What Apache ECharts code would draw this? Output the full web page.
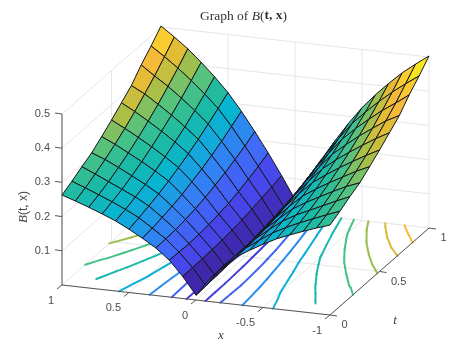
<!DOCTYPE html>
<html>
<head>
<meta charset="utf-8">
<style>html,body{margin:0;padding:0;background:#fff}#main{width:474px;height:355px}</style>
<script src="https://cdn.jsdelivr.net/npm/echarts@6/dist/echarts.min.js"></script>
</head>
<body>
<div id="main"></div>
<script>
// grid of the surface
var xValues=[-1,-0.9,-0.8,-0.7,-0.6,-0.5,-0.4,-0.3,-0.2,-0.1,0,0.1,0.2,0.3,0.4,0.5,0.6,0.7,0.8,0.9,1];
var tValues=[0,0.1,0.2,0.3,0.4,0.5,0.6,0.7,0.8,0.9,1];
// one row per t, columns follow xValues
var t00=[.263,.250,.236,.221,.205,.185,.163,.139,.108,.065,.014,.065,.108,.139,.163,.185,.205,.221,.236,.250,.263];
var t01=[.278,.263,.247,.231,.213,.193,.167,.140,.106,.065,.016,.065,.106,.140,.167,.193,.213,.231,.247,.263,.278];
var t02=[.295,.278,.260,.242,.224,.202,.173,.142,.105,.065,.018,.065,.105,.142,.173,.202,.224,.242,.260,.278,.295];
var t03=[.310,.295,.276,.256,.235,.212,.180,.146,.107,.067,.020,.067,.107,.146,.180,.212,.235,.256,.276,.295,.310];
var t04=[.332,.314,.293,.272,.249,.224,.189,.152,.110,.069,.022,.069,.110,.152,.189,.224,.249,.272,.293,.314,.332];
var t05=[.355,.335,.313,.290,.265,.238,.201,.160,.115,.073,.025,.073,.115,.160,.201,.238,.265,.290,.313,.335,.355];
var t06=[.380,.359,.335,.310,.283,.253,.213,.170,.121,.077,.028,.077,.121,.170,.213,.253,.283,.310,.335,.359,.380];
var t07=[.405,.385,.359,.332,.302,.270,.227,.181,.130,.083,.031,.083,.130,.181,.227,.270,.302,.332,.359,.385,.405];
var t08=[.440,.412,.386,.356,.324,.289,.243,.194,.141,.090,.033,.090,.141,.194,.243,.289,.324,.356,.386,.412,.440];
var t09=[.470,.443,.414,.382,.347,.309,.261,.208,.153,.097,.037,.097,.153,.208,.261,.309,.347,.382,.414,.443,.470];
var t10=[.503,.475,.445,.410,.372,.330,.280,.225,.167,.105,.040,.105,.167,.225,.280,.330,.372,.410,.445,.475,.503];
var zRows=[t00,t01,t02,t03,t04,t05,t06,t07,t08,t09,t10];
// colour value of a face, one row per upper t of the face, columns are |x| 0..1
var faceShades=[
	[.016,.064,.104,.138,.165,.191,.211,.229,.246,.263,.278],
	[.017,.061,.100,.135,.167,.196,.219,.237,.256,.278,.295],
	[.018,.061,.097,.133,.169,.202,.225,.246,.270,.295,.310],
	[.020,.059,.095,.132,.172,.208,.234,.257,.283,.314,.332],
	[.022,.059,.094,.132,.176,.215,.244,.269,.299,.335,.355],
	[.023,.059,.093,.133,.181,.223,.255,.282,.317,.359,.380],
	[.025,.060,.095,.135,.186,.232,.267,.297,.336,.385,.405],
	[.026,.062,.098,.137,.193,.243,.281,.313,.358,.412,.440],
	[.029,.063,.102,.140,.201,.254,.296,.331,.380,.443,.470],
	[.030,.065,.107,.145,.210,.265,.312,.350,.405,.475,.503]
];
var contourLevels=[0.05,0.1,0.15,0.2,0.25,0.3,0.35,0.4,0.45];
// tick labels
var xTicks=[1,0.5,0,-0.5,-1];
var tTicks=[0,0.5,1];
var zTicks=[0.1,0.2,0.3,0.4,0.5];

var parula=['#3e26a8','#4747eb','#3f6ffa','#2296ea','#08b5d0','#1cbaa5','#4cc283','#a8bf48','#e3bc36','#fcb93a','#f6e620'];
var zMin=0.014,zMax=0.503;
function zColor(z){
	return echarts.color.lerp((z-zMin)/(zMax-zMin),parula);
}
// fixed view of the box, gives a point on the hidden pixel axes
function project(x,t,z){
	var u=(1-x)/2;
	return [62+u*268+t*99,285+u*30-t*87-z*342];
}

// walls and floor lines
var gridLines=[];
xTicks.forEach(function(x){
	gridLines.push([[x,0,0],[x,1,0]]);
	gridLines.push([[x,1,0],[x,1,0.5]]);
});
tTicks.forEach(function(t){
	gridLines.push([[-1,t,0],[1,t,0]]);
	gridLines.push([[1,t,0],[1,t,0.5]]);
});
zTicks.forEach(function(z){
	gridLines.push([[1,0,z],[1,1,z]]);
	gridLines.push([[1,1,z],[-1,1,z]]);
});

// contour pieces on the floor, marching squares over zRows
var contourPieces=[];
contourLevels.forEach(function(level){
	for(var j=0;j<tValues.length-1;j++){
		for(var i=0;i<xValues.length-1;i++){
			var corners=[[i,j],[i+1,j],[i+1,j+1],[i,j+1]];
			var hits=[];
			for(var k=0;k<4;k++){
				var a=corners[k],b=corners[(k+1)%4];
				var za=zRows[a[1]][a[0]],zb=zRows[b[1]][b[0]];
				if((za-level)*(zb-level)<0){
					var f=(level-za)/(zb-za);
					hits.push([
						xValues[a[0]]+f*(xValues[b[0]]-xValues[a[0]]),
						tValues[a[1]]+f*(tValues[b[1]]-tValues[a[1]])
					]);
				}
			}
			if(hits.length>=2){
				contourPieces.push({p:hits[0],q:hits[1],level:level});
			}
			if(hits.length==4){
				contourPieces.push({p:hits[2],q:hits[3],level:level});
			}
		}
	}
});

// far cells first, the viewer sits on the -x,-t side
var cells=[];
for(var ix=xValues.length-2;ix>=0;ix--){
	for(var it=tValues.length-2;it>=0;it--){
		cells.push([ix,it]);
	}
}

// axis lines and ticks
var axisParts=[
	[[1,0,0],[1,0,0.5]],
	[[1,0,0],[-1,0,0]],
	[[-1,0,0],[-1,1,0]]
];

var labelParts=[];
zTicks.forEach(function(z){
	labelParts.push({at:[1,0,z],dx:-12,dy:0,text:String(z),align:'right'});
});
xTicks.forEach(function(x){
	labelParts.push({at:[x,0,0],dx:-8,dy:15.5,text:String(x),align:'right'});
});
tTicks.forEach(function(t){
	labelParts.push({at:[-1,t,0],dx:11.5,dy:10,text:String(t),align:'left'});
});

function toPixel(api,p){
	return api.coord(project(p[0],p[1],p[2]));
}
function seriesOf(name,data,renderItem){
	return {
		type:'custom',
		name:name,
		coordinateSystem:'cartesian2d',
		silent:true,
		animation:false,
		clip:false,
		data:data.map(function(d,idx){return [idx,idx];}),
		renderItem:renderItem
	};
}

var option={
	animation:false,
	backgroundColor:'#fff',
	title:{
		text:'Graph of {i|B}({b|t, x})',
		left:195,
		top:4,
		textStyle:{
			fontFamily:'Liberation Serif',
			fontSize:13.5,
			fontWeight:'normal',
			color:'#333',
			rich:{
				i:{fontFamily:'Liberation Serif',fontSize:13.5,fontStyle:'italic',color:'#333'},
				b:{fontFamily:'Liberation Serif',fontSize:13.5,fontWeight:'bold',color:'#333'}
			}
		}
	},
	grid:{left:0,right:0,top:0,bottom:0},
	xAxis:{type:'value',min:0,max:474,show:false},
	yAxis:{type:'value',min:0,max:355,inverse:true,show:false},
	series:[
		seriesOf('grid',gridLines,function(params,api){
			var g=gridLines[params.dataIndex];
			var a=toPixel(api,g[0]),b=toPixel(api,g[1]);
			return {type:'line',shape:{x1:a[0],y1:a[1],x2:b[0],y2:b[1]},style:{stroke:'#e6e6e6',lineWidth:1}};
		}),
		seriesOf('contour',contourPieces,function(params,api){
			var c=contourPieces[params.dataIndex];
			var a=toPixel(api,[c.p[0],c.p[1],0]),b=toPixel(api,[c.q[0],c.q[1],0]);
			return {type:'line',shape:{x1:a[0],y1:a[1],x2:b[0],y2:b[1]},style:{stroke:zColor(c.level),lineWidth:2,lineCap:'round'}};
		}),
		seriesOf('axes',axisParts,function(params,api){
			var s=axisParts[params.dataIndex];
			var a=toPixel(api,s[0]),b=toPixel(api,s[1]);
			var kids=[{type:'line',shape:{x1:a[0],y1:a[1],x2:b[0],y2:b[1]},style:{stroke:'#555',lineWidth:1}}];
			function tick(p,dx,dy){
				var q=toPixel(api,p);
				kids.push({type:'line',shape:{x1:q[0],y1:q[1],x2:q[0]+dx,y2:q[1]+dy},style:{stroke:'#555',lineWidth:1}});
			}
			if(params.dataIndex==0){
				zTicks.forEach(function(z){tick([1,0,z],-7,-1);});
			}else if(params.dataIndex==1){
				xTicks.forEach(function(x){tick([x,0,0],-5,4);});
			}else{
				tTicks.forEach(function(t){tick([-1,t,0],7,1);});
			}
			return {type:'group',children:kids};
		}),
		seriesOf('surface',cells,function(params,api){
			var c=cells[params.dataIndex],i=c[0],j=c[1];
			var pts=[[i,j],[i+1,j],[i+1,j+1],[i,j+1]].map(function(n){
				return toPixel(api,[xValues[n[0]],tValues[n[1]],zRows[n[1]][n[0]]]);
			});
			// flat colour comes from one corner of the cell
			var shade=faceShades[j][Math.abs(i-10)];
			return {type:'polygon',shape:{points:pts},style:{fill:zColor(shade),stroke:'#16161a',lineWidth:1,lineJoin:'round'}};
		}),
		seriesOf('labels',labelParts,function(params,api){
			var l=labelParts[params.dataIndex];
			var q=toPixel(api,l.at);
			return {type:'text',x:q[0]+l.dx,y:q[1]+l.dy,style:{text:l.text,align:l.align,verticalAlign:'middle',fontFamily:'Liberation Sans',fontSize:11,fill:'#4d4d4d'}};
		}),
		seriesOf('names',[0,1,2],function(params,api){
			if(params.dataIndex==0){
				var p=api.coord([24,207]);
				return {type:'text',x:p[0],y:p[1],rotation:Math.PI/2,style:{
					text:'{i|B}(t, x)',align:'center',verticalAlign:'middle',
					fontFamily:'Liberation Sans',fontSize:12,fill:'#404040',
					rich:{i:{fontFamily:'Liberation Serif',fontStyle:'italic',fontSize:13,fill:'#404040'}}
				}};
			}
			var at=params.dataIndex==1?[221,336]:[395,321];
			var q=api.coord(at);
			return {type:'text',x:q[0],y:q[1],style:{
				text:params.dataIndex==1?'x':'t',align:'center',verticalAlign:'middle',
				fontFamily:'Liberation Serif',fontStyle:'italic',fontSize:13,fill:'#404040'
			}};
		})
	]
};
var myChart=echarts.init(document.getElementById('main'),null,{renderer:'canvas'});
myChart.setOption(option);
</script>
</body>
</html>
